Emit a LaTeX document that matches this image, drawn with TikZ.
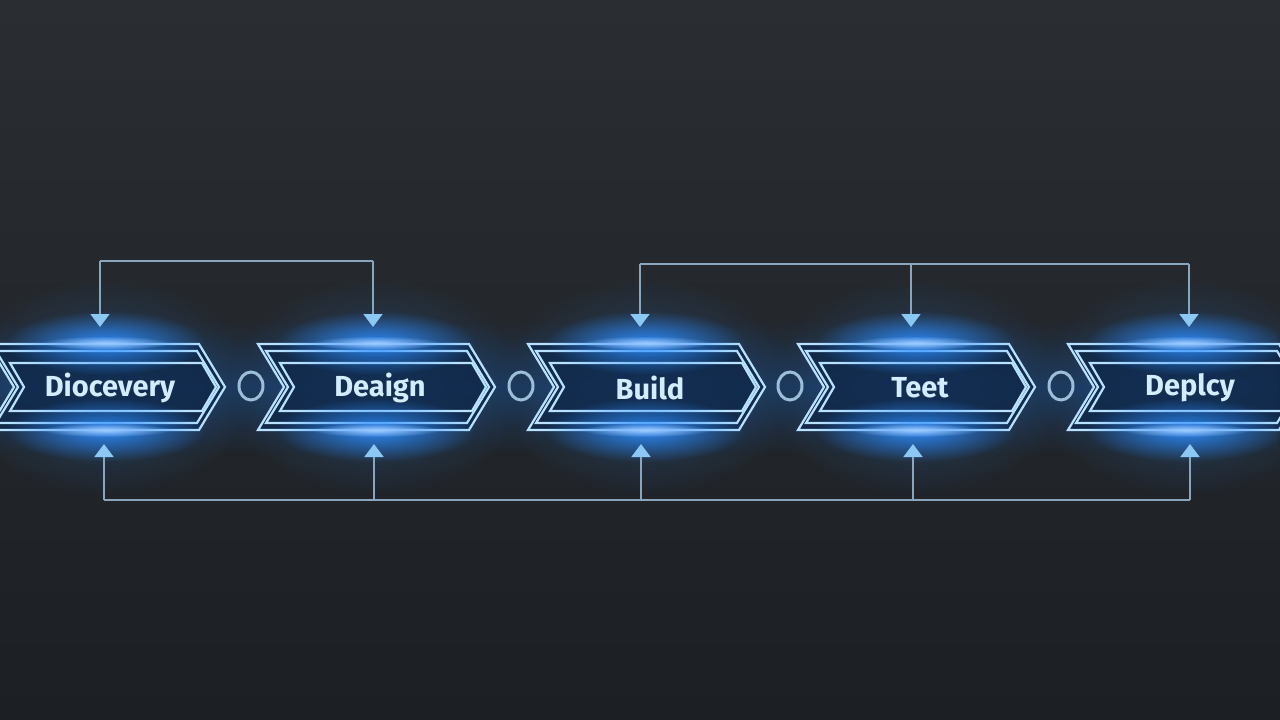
\documentclass[tikz,border=0pt]{standalone}
\usepackage{fontspec}
\setmainfont{Fira Sans}
\usetikzlibrary{arrows.meta,fadings}

\definecolor{bgtop}{HTML}{2A2D31}
\definecolor{bgbot}{HTML}{1C2025}
\definecolor{halo}{HTML}{2C8DFF}
\definecolor{rim}{HTML}{B8E2FF}
\definecolor{wire}{HTML}{8AA6BE}
\definecolor{tipc}{HTML}{8CC8F4}
\definecolor{ink}{HTML}{D4ECFF}
\definecolor{panel}{HTML}{10294A}

\tikzfading[name=softglow, inner color=transparent!0, outer color=transparent!100]
\tikzfading[name=bandfade, top color=transparent!100, bottom color=transparent!100,
  middle color=transparent!50]

\tikzset{
  rim/.style={draw=rim, line width=2.2pt, line join=miter},
  wire/.style={draw=wire, line width=1.8pt},
  feed/.style={wire, -{Triangle[length=13pt,width=19pt,color=tipc]}},
  stage/.style={text=ink, font=\fontsize{29}{34}\selectfont\bfseries, inner sep=0pt},
  link/.style={draw=wire!60!rim, line width=3pt}
}

% chevron: centre x, left offset, tip offset, half height, notch
\newcommand{\chevron}[6][rim]{%
  \path[#1] (#2-#3,387-#5) -- (#2+#4-#6,387-#5) -- (#2+#4,387)
    -- (#2+#4-#6,387+#5) -- (#2-#3,387+#5) -- (#2-#3+#6,387) -- cycle;}

\begin{document}
\begin{tikzpicture}[x=1pt,y=-1pt]
  \useasboundingbox (0,0) rectangle (1280,720);
  \shade[top color=bgtop, bottom color=bgbot] (0,0) rectangle (1280,720);

  % Glow band
  \fill[halo!50!black, path fading=bandfade] (0,320) rectangle (1280,455);

  % Stages
  \foreach \cx/\name/\txt in {106/disc/Diocevery, 376/desg/Deaign, 646/bld/Build,
      916/tst/Teet, 1186/dpl/Deplcy}{
    \fill[halo, opacity=0.3, path fading=softglow] (\cx,387) ellipse (150 and 110);
    \chevron[fill=panel, fill opacity=0.85]{\cx}{118}{119}{43}{26}
    \chevron{\cx}{118}{119}{43}{26}
    \chevron{\cx}{110}{113}{36}{22}
    \chevron{\cx}{96}{110}{24}{14}
    \fill[halo, opacity=0.9, path fading=softglow] (\cx,343) ellipse (100 and 32);
    \fill[white!55!halo, path fading=softglow] (\cx,343) ellipse (65 and 7);
    \fill[halo, opacity=0.9, path fading=softglow] (\cx,430) ellipse (100 and 32);
    \fill[white!55!halo, path fading=softglow] (\cx,430) ellipse (65 and 7);
    \node[stage] (\name) at (\cx+4,388) {\txt};
  }

  % Links between stages
  \foreach \x in {251,521,790,1061}
    \draw[link] (\x,386) ellipse (12 and 14);

  % Feed points above and below the stages
  \coordinate (disc-n) at (100,327);
  \coordinate (desg-n) at (373,327);
  \coordinate (bld-n) at (640,327);
  \coordinate (tst-n) at (911,327);
  \coordinate (dpl-n) at (1189,327);
  \coordinate (disc-s) at (104,444);
  \coordinate (desg-s) at (374,444);
  \coordinate (bld-s) at (641,444);
  \coordinate (tst-s) at (913,444);
  \coordinate (dpl-s) at (1190,444);

  \coordinate (busA) at (0,261);
  \coordinate (busB) at (0,264);
  \coordinate (busC) at (0,500);

  % Buses
  \draw[wire] (busA -| disc-n) -- (busA -| desg-n);
  \foreach \s in {disc,desg}
    \draw[feed] (busA -| \s-n) -- (\s-n);
  \draw[wire] (busB -| bld-n) -- (busB -| dpl-n);
  \foreach \s in {bld,tst,dpl}
    \draw[feed] (busB -| \s-n) -- (\s-n);
  \draw[wire] (busC -| disc-s) -- (busC -| dpl-s);
  \foreach \s in {disc,desg,bld,tst,dpl}
    \draw[feed] (busC -| \s-s) -- (\s-s);
\end{tikzpicture}
\end{document}
